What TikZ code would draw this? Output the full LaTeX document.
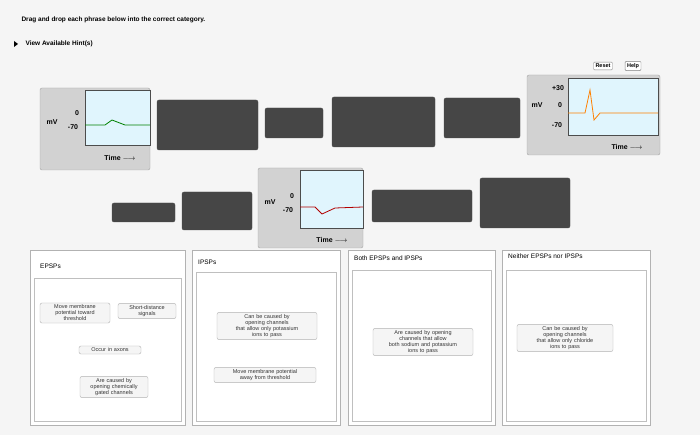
\documentclass[tikz,border=0pt]{standalone}
\usepackage{fontspec}
\setmainfont{Liberation Sans}
\begin{document}
\begin{tikzpicture}[x=1pt,y=-1pt,
  dark/.style={draw=gray!60!black,fill=gray!55!black,rounded corners=2pt},
  tile/.style={draw=gray!70,fill=gray!35,rounded corners=2pt},
  plot/.style={draw=gray!60!black,fill=cyan!12},
  panel/.style={draw=gray!60,fill=white},
  chip/.style={draw=gray!60,fill=gray!8,rounded corners=2pt,align=center,font=\fontsize{5.5}{6}\selectfont,text=gray!40!black,inner sep=2pt},
  lab/.style={font=\fontsize{7}{8}\selectfont\bfseries,inner sep=0pt},
  head/.style={font=\fontsize{6.5}{7}\selectfont,anchor=west,inner sep=0pt}]
\fill[gray!8] (0,0) rectangle (700,435);
\useasboundingbox (0,0) rectangle (700,435);
\node[anchor=west,font=\fontsize{6.5}{7}\selectfont\bfseries] (t1) at (18,20) {Drag and drop each phrase below into the correct category.};
\fill (14,41) -- (18,44) -- (14,47) -- cycle;
\node[anchor=west,font=\fontsize{6.5}{7}\selectfont\bfseries] (t2) at (22,44) {View Available Hint(s)};
\node[draw=gray,fill=white,rounded corners=1pt,font=\fontsize{5.5}{6}\selectfont\bfseries,inner sep=2pt] (reset) at (603,66) {Reset};
\node[draw=gray,fill=white,rounded corners=1pt,font=\fontsize{5.5}{6}\selectfont\bfseries,inner sep=2pt] (help) at (633,66) {Help};
% tile 1
\draw[tile] (40,88) rectangle (150,170);
\draw[plot] (85,90) rectangle (150,145);
\draw[green!50!black,thick] (85,125) -- (105,125) -- (112,120) -- (125,125) -- (150,125);
\node[lab] (a1) at (52,122) {mV};
\node[lab] (a2) at (77,113) {0};
\node[lab] (a3) at (73,127) {-70};
\node[lab] (a4) at (120,158) {Time $\longrightarrow$};
% dark boxes row 1
\draw[dark] (157,100) rectangle (258,150);
\draw[dark] (265,108) rectangle (323,138);
\draw[dark] (332,97) rectangle (435,147);
\draw[dark] (444,98) rectangle (520,138);
% tile 2
\draw[tile] (527,75) rectangle (660,155);
\draw[plot] (568,78) rectangle (658,135);
\draw[orange,thick] (568,113) -- (585,113) -- (590,90) -- (594,120) -- (600,113) -- (658,113);
\node[lab] (b1) at (537,105) {mV};
\node[lab] (b2) at (558,88) {+30};
\node[lab] (b3) at (560,105) {0};
\node[lab] (b4) at (557,125) {-70};
\node[lab] (b5) at (627,147) {Time $\longrightarrow$};
% row 2
\draw[dark] (112,203) rectangle (175,222);
\draw[dark] (182,192) rectangle (252,230);
\draw[tile] (258,168) rectangle (363,248);
\draw[plot] (300,170) rectangle (363,228);
\draw[red!70!black,thick] (300,207) -- (315,207) -- (322,214) -- (335,208) -- (363,207);
\node[lab] (c1) at (270,202) {mV};
\node[lab] (c2) at (292,196) {0};
\node[lab] (c3) at (288,210) {-70};
\node[lab] (c4) at (332,240) {Time $\longrightarrow$};
\draw[dark] (372,190) rectangle (472,222);
\draw[dark] (480,178) rectangle (570,228);
% panels
\draw[panel] (30,250) rectangle (185,425);
\draw[panel] (192,250) rectangle (340,425);
\draw[panel] (348,250) rectangle (495,425);
\draw[panel] (502,250) rectangle (650,425);
\draw[gray!50] (34,278) rectangle (181,421);
\draw[gray!50] (196,272) rectangle (336,421);
\draw[gray!50] (352,270) rectangle (491,421);
\draw[gray!50] (506,270) rectangle (646,421);
\node[head] (h1) at (40,266) {EPSPs};
\node[head] (h2) at (198,262) {IPSPs};
\node[head] (h3) at (354,258) {Both EPSPs and IPSPs};
\node[head] (h4) at (508,256) {Neither EPSPs nor IPSPs};
% chips
\node[chip,text width=66pt] (e1) at (75,313) {Move membrane\\potential toward\\threshold};
\node[chip,text width=54pt] (e2) at (147,311) {Short-distance\\signals};
\node[chip,text width=58pt] (e3) at (110,350) {Occur in axons};
\node[chip,text width=64pt] (e4) at (114,387) {Are caused by\\opening chemically\\gated channels};
\node[chip,text width=96pt] (i1) at (267,326) {Can be caused by\\opening channels\\that allow only potassium\\ions to pass};
\node[chip,text width=98pt] (i2) at (265,375) {Move membrane potential\\away from threshold};
\node[chip,text width=96pt] (b6) at (423,342) {Are caused by opening\\channels that allow\\both sodium and potassium\\ions to pass};
\node[chip,text width=92pt] (n1) at (565,338) {Can be caused by\\opening channels\\that allow only chloride\\ions to pass};
\end{tikzpicture}
\end{document}
